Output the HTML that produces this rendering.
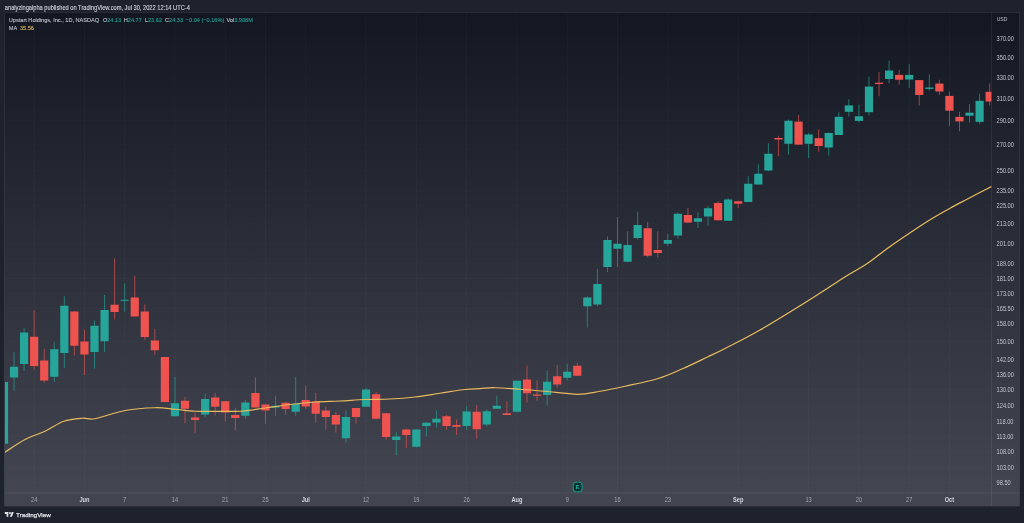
<!DOCTYPE html>
<html><head><meta charset="utf-8"><title>UPST chart</title>
<style>
html,body{margin:0;padding:0;background:#1e222d;overflow:hidden}
body{width:1024px;height:523px;font-family:"Liberation Sans",sans-serif}
svg{display:block;font-family:"Liberation Sans",sans-serif}
</style></head><body>
<svg width="1024" height="523" viewBox="0 0 1024 523">
<defs>
<linearGradient id="g" x1="0" y1="0" x2="0" y2="1"><stop offset="0" stop-color="#131722"/><stop offset="1" stop-color="#434651"/></linearGradient>
<clipPath id="pane"><rect x="5" y="13" width="986.4" height="480"/></clipPath>
</defs>
<rect width="1024" height="523" fill="#1e222d"/>
<rect x="4.5" y="12.5" width="1015" height="481" fill="url(#g)"/>
<rect x="4.5" y="493" width="1015" height="13.4" fill="#42454f"/>

<g stroke="#ffffff" stroke-opacity="0.028" stroke-width="1">
<line x1="34.15" y1="13" x2="34.15" y2="493"/>
<line x1="84.44" y1="13" x2="84.44" y2="493"/>
<line x1="124.67" y1="13" x2="124.67" y2="493"/>
<line x1="174.96" y1="13" x2="174.96" y2="493"/>
<line x1="225.25" y1="13" x2="225.25" y2="493"/>
<line x1="265.48" y1="13" x2="265.48" y2="493"/>
<line x1="305.72" y1="13" x2="305.72" y2="493"/>
<line x1="366.06" y1="13" x2="366.06" y2="493"/>
<line x1="416.35" y1="13" x2="416.35" y2="493"/>
<line x1="466.64" y1="13" x2="466.64" y2="493"/>
<line x1="516.93" y1="13" x2="516.93" y2="493"/>
<line x1="567.22" y1="13" x2="567.22" y2="493"/>
<line x1="617.51" y1="13" x2="617.51" y2="493"/>
<line x1="667.80" y1="13" x2="667.80" y2="493"/>
<line x1="738.21" y1="13" x2="738.21" y2="493"/>
<line x1="808.62" y1="13" x2="808.62" y2="493"/>
<line x1="858.91" y1="13" x2="858.91" y2="493"/>
<line x1="909.20" y1="13" x2="909.20" y2="493"/>
<line x1="949.43" y1="13" x2="949.43" y2="493"/>
</g>
<g stroke="#ffffff" stroke-opacity="0.014" stroke-width="1">
<line x1="5" y1="38.90" x2="991" y2="38.90"/>
<line x1="5" y1="57.52" x2="991" y2="57.52"/>
<line x1="5" y1="77.24" x2="991" y2="77.24"/>
<line x1="5" y1="98.19" x2="991" y2="98.19"/>
<line x1="5" y1="120.54" x2="991" y2="120.54"/>
<line x1="5" y1="144.48" x2="991" y2="144.48"/>
<line x1="5" y1="170.27" x2="991" y2="170.27"/>
<line x1="5" y1="191.01" x2="991" y2="191.01"/>
<line x1="5" y1="205.58" x2="991" y2="205.58"/>
<line x1="5" y1="223.95" x2="991" y2="223.95"/>
<line x1="5" y1="243.38" x2="991" y2="243.38"/>
<line x1="5" y1="264.01" x2="991" y2="264.01"/>
<line x1="5" y1="278.50" x2="991" y2="278.50"/>
<line x1="5" y1="293.65" x2="991" y2="293.65"/>
<line x1="5" y1="308.50" x2="991" y2="308.50"/>
<line x1="5" y1="324.04" x2="991" y2="324.04"/>
<line x1="5" y1="341.45" x2="991" y2="341.45"/>
<line x1="5" y1="359.82" x2="991" y2="359.82"/>
<line x1="5" y1="374.28" x2="991" y2="374.28"/>
<line x1="5" y1="389.40" x2="991" y2="389.40"/>
<line x1="5" y1="405.24" x2="991" y2="405.24"/>
<line x1="5" y1="421.86" x2="991" y2="421.86"/>
<line x1="5" y1="436.37" x2="991" y2="436.37"/>
<line x1="5" y1="451.53" x2="991" y2="451.53"/>
<line x1="5" y1="467.42" x2="991" y2="467.42"/>
<line x1="5" y1="482.39" x2="991" y2="482.39"/>
</g>
<g stroke="#ffffff" stroke-opacity="0.07" stroke-width="1" fill="none">
<line x1="4.5" y1="12.5" x2="1019.5" y2="12.5"/>
<line x1="4.5" y1="493" x2="1019.5" y2="493"/>
<line x1="991.4" y1="12.5" x2="991.4" y2="506.4"/>
<line x1="1019.5" y1="12.5" x2="1019.5" y2="506"/>
<line x1="4.5" y1="12.5" x2="4.5" y2="506"/>
</g>
<g clip-path="url(#pane)">
<rect x="3.48" y="382.00" width="1" height="61.75" fill="#26a69a" opacity="0.64"/>
<rect x="-0.12" y="382.00" width="8.2" height="61.75" fill="#26a69a"/>
<rect x="13.53" y="352.00" width="1" height="39.00" fill="#26a69a" opacity="0.64"/>
<rect x="9.93" y="366.75" width="8.2" height="10.75" fill="#26a69a"/>
<rect x="23.59" y="328.00" width="1" height="43.00" fill="#26a69a" opacity="0.64"/>
<rect x="19.99" y="332.50" width="8.2" height="31.50" fill="#26a69a"/>
<rect x="33.65" y="310.00" width="1" height="59.50" fill="#ef5350" opacity="0.64"/>
<rect x="30.05" y="336.75" width="8.2" height="29.25" fill="#ef5350"/>
<rect x="43.71" y="348.75" width="1" height="33.75" fill="#ef5350" opacity="0.64"/>
<rect x="40.11" y="360.50" width="8.2" height="20.00" fill="#ef5350"/>
<rect x="53.77" y="342.50" width="1" height="39.50" fill="#26a69a" opacity="0.64"/>
<rect x="50.17" y="349.25" width="8.2" height="27.50" fill="#26a69a"/>
<rect x="63.82" y="296.25" width="1" height="71.75" fill="#26a69a" opacity="0.64"/>
<rect x="60.22" y="305.75" width="8.2" height="47.25" fill="#26a69a"/>
<rect x="73.88" y="311.25" width="1" height="44.25" fill="#ef5350" opacity="0.64"/>
<rect x="70.28" y="311.50" width="8.2" height="34.25" fill="#ef5350"/>
<rect x="83.94" y="329.50" width="1" height="45.50" fill="#ef5350" opacity="0.64"/>
<rect x="80.34" y="341.50" width="8.2" height="13.00" fill="#ef5350"/>
<rect x="94.00" y="320.50" width="1" height="48.25" fill="#26a69a" opacity="0.64"/>
<rect x="90.40" y="325.75" width="8.2" height="26.25" fill="#26a69a"/>
<rect x="104.06" y="295.00" width="1" height="57.00" fill="#26a69a" opacity="0.64"/>
<rect x="100.46" y="310.00" width="8.2" height="31.25" fill="#26a69a"/>
<rect x="114.11" y="258.25" width="1" height="61.25" fill="#ef5350" opacity="0.64"/>
<rect x="110.51" y="304.75" width="8.2" height="7.25" fill="#ef5350"/>
<rect x="124.17" y="283.25" width="1" height="28.50" fill="#26a69a" opacity="0.64"/>
<rect x="120.57" y="299.80" width="8.2" height="1.00" fill="#26a69a"/>
<rect x="134.23" y="275.75" width="1" height="40.75" fill="#ef5350" opacity="0.64"/>
<rect x="130.63" y="297.50" width="8.2" height="19.00" fill="#ef5350"/>
<rect x="144.29" y="304.50" width="1" height="35.50" fill="#ef5350" opacity="0.64"/>
<rect x="140.69" y="311.50" width="8.2" height="25.50" fill="#ef5350"/>
<rect x="154.35" y="328.75" width="1" height="26.25" fill="#ef5350" opacity="0.64"/>
<rect x="150.75" y="340.50" width="8.2" height="9.75" fill="#ef5350"/>
<rect x="164.40" y="356.75" width="1" height="45.25" fill="#ef5350" opacity="0.64"/>
<rect x="160.80" y="357.00" width="8.2" height="45.00" fill="#ef5350"/>
<rect x="174.46" y="377.00" width="1" height="39.50" fill="#26a69a" opacity="0.64"/>
<rect x="170.86" y="403.25" width="8.2" height="13.00" fill="#26a69a"/>
<rect x="184.52" y="397.00" width="1" height="26.25" fill="#ef5350" opacity="0.64"/>
<rect x="180.92" y="400.75" width="8.2" height="8.00" fill="#ef5350"/>
<rect x="194.58" y="412.50" width="1" height="20.50" fill="#ef5350" opacity="0.64"/>
<rect x="190.98" y="417.50" width="8.2" height="2.50" fill="#ef5350"/>
<rect x="204.64" y="393.75" width="1" height="23.75" fill="#26a69a" opacity="0.64"/>
<rect x="201.04" y="399.00" width="8.2" height="15.50" fill="#26a69a"/>
<rect x="214.69" y="393.00" width="1" height="22.50" fill="#ef5350" opacity="0.64"/>
<rect x="211.09" y="397.50" width="8.2" height="9.25" fill="#ef5350"/>
<rect x="224.75" y="400.75" width="1" height="20.50" fill="#ef5350" opacity="0.64"/>
<rect x="221.15" y="401.25" width="8.2" height="11.25" fill="#ef5350"/>
<rect x="234.81" y="408.00" width="1" height="22.50" fill="#ef5350" opacity="0.64"/>
<rect x="231.21" y="415.00" width="8.2" height="3.00" fill="#ef5350"/>
<rect x="244.87" y="400.00" width="1" height="18.75" fill="#26a69a" opacity="0.64"/>
<rect x="241.27" y="402.50" width="8.2" height="13.25" fill="#26a69a"/>
<rect x="254.93" y="377.50" width="1" height="30.00" fill="#ef5350" opacity="0.64"/>
<rect x="251.33" y="393.00" width="8.2" height="14.50" fill="#ef5350"/>
<rect x="264.98" y="403.75" width="1" height="20.00" fill="#ef5350" opacity="0.64"/>
<rect x="261.38" y="404.50" width="8.2" height="6.00" fill="#ef5350"/>
<rect x="275.04" y="395.75" width="1" height="20.00" fill="#26a69a" opacity="0.64"/>
<rect x="271.44" y="405.75" width="8.2" height="1.75" fill="#26a69a"/>
<rect x="285.10" y="402.00" width="1" height="13.00" fill="#ef5350" opacity="0.64"/>
<rect x="281.50" y="402.75" width="8.2" height="6.25" fill="#ef5350"/>
<rect x="295.16" y="377.00" width="1" height="38.75" fill="#26a69a" opacity="0.64"/>
<rect x="291.56" y="403.75" width="8.2" height="8.00" fill="#26a69a"/>
<rect x="305.22" y="385.50" width="1" height="23.25" fill="#ef5350" opacity="0.64"/>
<rect x="301.62" y="400.00" width="8.2" height="6.50" fill="#ef5350"/>
<rect x="315.27" y="393.00" width="1" height="29.50" fill="#ef5350" opacity="0.64"/>
<rect x="311.67" y="401.50" width="8.2" height="12.25" fill="#ef5350"/>
<rect x="325.33" y="406.25" width="1" height="23.25" fill="#ef5350" opacity="0.64"/>
<rect x="321.73" y="410.50" width="8.2" height="6.50" fill="#ef5350"/>
<rect x="335.39" y="412.00" width="1" height="20.50" fill="#ef5350" opacity="0.64"/>
<rect x="331.79" y="415.00" width="8.2" height="9.50" fill="#ef5350"/>
<rect x="345.45" y="410.50" width="1" height="32.00" fill="#26a69a" opacity="0.64"/>
<rect x="341.85" y="417.00" width="8.2" height="21.25" fill="#26a69a"/>
<rect x="355.51" y="408.00" width="1" height="15.75" fill="#ef5350" opacity="0.64"/>
<rect x="351.91" y="408.00" width="8.2" height="9.00" fill="#ef5350"/>
<rect x="365.56" y="388.00" width="1" height="18.75" fill="#26a69a" opacity="0.64"/>
<rect x="361.96" y="389.50" width="8.2" height="17.25" fill="#26a69a"/>
<rect x="375.62" y="392.00" width="1" height="27.50" fill="#ef5350" opacity="0.64"/>
<rect x="372.02" y="394.25" width="8.2" height="24.50" fill="#ef5350"/>
<rect x="385.68" y="413.00" width="1" height="26.50" fill="#ef5350" opacity="0.64"/>
<rect x="382.08" y="413.25" width="8.2" height="23.75" fill="#ef5350"/>
<rect x="395.74" y="432.00" width="1" height="23.00" fill="#26a69a" opacity="0.64"/>
<rect x="392.14" y="436.50" width="8.2" height="3.50" fill="#26a69a"/>
<rect x="405.80" y="428.75" width="1" height="19.25" fill="#ef5350" opacity="0.64"/>
<rect x="402.20" y="429.50" width="8.2" height="5.50" fill="#ef5350"/>
<rect x="415.85" y="429.50" width="1" height="18.00" fill="#26a69a" opacity="0.64"/>
<rect x="412.25" y="429.50" width="8.2" height="17.25" fill="#26a69a"/>
<rect x="425.91" y="422.00" width="1" height="14.25" fill="#26a69a" opacity="0.64"/>
<rect x="422.31" y="422.75" width="8.2" height="3.25" fill="#26a69a"/>
<rect x="435.97" y="410.50" width="1" height="17.00" fill="#26a69a" opacity="0.64"/>
<rect x="432.37" y="418.75" width="8.2" height="3.75" fill="#26a69a"/>
<rect x="446.03" y="415.00" width="1" height="14.50" fill="#ef5350" opacity="0.64"/>
<rect x="442.43" y="416.25" width="8.2" height="9.75" fill="#ef5350"/>
<rect x="456.09" y="419.50" width="1" height="15.50" fill="#ef5350" opacity="0.64"/>
<rect x="452.49" y="425.00" width="8.2" height="1.75" fill="#ef5350"/>
<rect x="466.14" y="406.25" width="1" height="23.75" fill="#26a69a" opacity="0.64"/>
<rect x="462.54" y="411.50" width="8.2" height="14.50" fill="#26a69a"/>
<rect x="476.20" y="405.00" width="1" height="33.75" fill="#ef5350" opacity="0.64"/>
<rect x="472.60" y="411.75" width="8.2" height="17.50" fill="#ef5350"/>
<rect x="486.26" y="409.50" width="1" height="16.75" fill="#26a69a" opacity="0.64"/>
<rect x="482.66" y="411.25" width="8.2" height="13.25" fill="#26a69a"/>
<rect x="496.32" y="395.75" width="1" height="13.25" fill="#26a69a" opacity="0.64"/>
<rect x="492.72" y="405.75" width="8.2" height="3.00" fill="#26a69a"/>
<rect x="506.38" y="401.25" width="1" height="13.75" fill="#ef5350" opacity="0.64"/>
<rect x="502.78" y="413.25" width="8.2" height="1.75" fill="#ef5350"/>
<rect x="516.43" y="380.50" width="1" height="32.00" fill="#26a69a" opacity="0.64"/>
<rect x="512.83" y="380.75" width="8.2" height="31.00" fill="#26a69a"/>
<rect x="526.49" y="365.75" width="1" height="36.75" fill="#ef5350" opacity="0.64"/>
<rect x="522.89" y="379.50" width="8.2" height="13.75" fill="#ef5350"/>
<rect x="536.55" y="380.50" width="1" height="20.25" fill="#ef5350" opacity="0.64"/>
<rect x="532.95" y="394.50" width="8.2" height="1.25" fill="#ef5350"/>
<rect x="546.61" y="370.50" width="1" height="35.00" fill="#26a69a" opacity="0.64"/>
<rect x="543.01" y="381.75" width="8.2" height="13.25" fill="#26a69a"/>
<rect x="556.67" y="365.00" width="1" height="23.00" fill="#ef5350" opacity="0.64"/>
<rect x="553.07" y="376.25" width="8.2" height="8.25" fill="#ef5350"/>
<rect x="566.72" y="363.75" width="1" height="16.75" fill="#26a69a" opacity="0.64"/>
<rect x="563.12" y="371.75" width="8.2" height="6.00" fill="#26a69a"/>
<rect x="576.78" y="363.00" width="1" height="12.75" fill="#ef5350" opacity="0.64"/>
<rect x="573.18" y="365.75" width="8.2" height="10.00" fill="#ef5350"/>
<rect x="586.84" y="296.25" width="1" height="31.25" fill="#26a69a" opacity="0.64"/>
<rect x="583.24" y="297.50" width="8.2" height="8.75" fill="#26a69a"/>
<rect x="596.90" y="268.75" width="1" height="37.50" fill="#26a69a" opacity="0.64"/>
<rect x="593.30" y="284.00" width="8.2" height="20.50" fill="#26a69a"/>
<rect x="606.96" y="236.25" width="1" height="35.75" fill="#26a69a" opacity="0.64"/>
<rect x="603.36" y="240.00" width="8.2" height="27.00" fill="#26a69a"/>
<rect x="617.01" y="217.00" width="1" height="50.00" fill="#26a69a" opacity="0.64"/>
<rect x="613.41" y="243.75" width="8.2" height="5.00" fill="#26a69a"/>
<rect x="627.07" y="231.25" width="1" height="30.50" fill="#26a69a" opacity="0.64"/>
<rect x="623.47" y="245.00" width="8.2" height="16.75" fill="#26a69a"/>
<rect x="637.13" y="211.75" width="1" height="27.75" fill="#26a69a" opacity="0.64"/>
<rect x="633.53" y="225.00" width="8.2" height="13.00" fill="#26a69a"/>
<rect x="647.19" y="222.00" width="1" height="35.50" fill="#ef5350" opacity="0.64"/>
<rect x="643.59" y="228.25" width="8.2" height="27.50" fill="#ef5350"/>
<rect x="657.25" y="231.25" width="1" height="26.25" fill="#ef5350" opacity="0.64"/>
<rect x="653.65" y="250.00" width="8.2" height="3.00" fill="#ef5350"/>
<rect x="667.30" y="233.75" width="1" height="12.50" fill="#26a69a" opacity="0.64"/>
<rect x="663.70" y="240.00" width="8.2" height="3.75" fill="#26a69a"/>
<rect x="677.36" y="212.50" width="1" height="26.25" fill="#26a69a" opacity="0.64"/>
<rect x="673.76" y="213.75" width="8.2" height="21.75" fill="#26a69a"/>
<rect x="687.42" y="208.00" width="1" height="15.00" fill="#ef5350" opacity="0.64"/>
<rect x="683.82" y="215.00" width="8.2" height="7.50" fill="#ef5350"/>
<rect x="697.48" y="212.50" width="1" height="15.50" fill="#26a69a" opacity="0.64"/>
<rect x="693.88" y="218.25" width="8.2" height="3.50" fill="#26a69a"/>
<rect x="707.54" y="206.25" width="1" height="19.50" fill="#26a69a" opacity="0.64"/>
<rect x="703.94" y="208.25" width="8.2" height="8.25" fill="#26a69a"/>
<rect x="717.59" y="201.25" width="1" height="19.50" fill="#ef5350" opacity="0.64"/>
<rect x="713.99" y="203.00" width="8.2" height="17.25" fill="#ef5350"/>
<rect x="727.65" y="198.00" width="1" height="23.00" fill="#26a69a" opacity="0.64"/>
<rect x="724.05" y="199.50" width="8.2" height="21.25" fill="#26a69a"/>
<rect x="737.71" y="200.75" width="1" height="7.50" fill="#ef5350" opacity="0.64"/>
<rect x="734.11" y="201.25" width="8.2" height="2.50" fill="#ef5350"/>
<rect x="747.77" y="176.25" width="1" height="25.75" fill="#26a69a" opacity="0.64"/>
<rect x="744.17" y="183.75" width="8.2" height="18.25" fill="#26a69a"/>
<rect x="757.83" y="164.25" width="1" height="20.75" fill="#26a69a" opacity="0.64"/>
<rect x="754.23" y="173.75" width="8.2" height="10.75" fill="#26a69a"/>
<rect x="767.88" y="143.25" width="1" height="28.00" fill="#26a69a" opacity="0.64"/>
<rect x="764.28" y="153.75" width="8.2" height="16.75" fill="#26a69a"/>
<rect x="777.94" y="135.75" width="1" height="20.50" fill="#ef5350" opacity="0.64"/>
<rect x="774.34" y="138.00" width="8.2" height="1.50" fill="#ef5350"/>
<rect x="788.00" y="119.50" width="1" height="35.00" fill="#26a69a" opacity="0.64"/>
<rect x="784.40" y="120.75" width="8.2" height="23.00" fill="#26a69a"/>
<rect x="798.06" y="115.00" width="1" height="30.00" fill="#ef5350" opacity="0.64"/>
<rect x="794.46" y="121.60" width="8.2" height="23.00" fill="#ef5350"/>
<rect x="808.12" y="133.00" width="1" height="25.00" fill="#26a69a" opacity="0.64"/>
<rect x="804.52" y="134.50" width="8.2" height="9.30" fill="#26a69a"/>
<rect x="818.17" y="129.30" width="1" height="22.30" fill="#ef5350" opacity="0.64"/>
<rect x="814.57" y="138.20" width="8.2" height="7.80" fill="#ef5350"/>
<rect x="828.23" y="132.20" width="1" height="23.50" fill="#26a69a" opacity="0.64"/>
<rect x="824.63" y="133.00" width="8.2" height="14.50" fill="#26a69a"/>
<rect x="838.29" y="112.40" width="1" height="22.60" fill="#26a69a" opacity="0.64"/>
<rect x="834.69" y="116.80" width="8.2" height="18.20" fill="#26a69a"/>
<rect x="848.35" y="99.20" width="1" height="17.40" fill="#26a69a" opacity="0.64"/>
<rect x="844.75" y="105.40" width="8.2" height="6.40" fill="#26a69a"/>
<rect x="858.41" y="104.60" width="1" height="17.70" fill="#26a69a" opacity="0.64"/>
<rect x="854.81" y="116.30" width="8.2" height="4.60" fill="#26a69a"/>
<rect x="868.46" y="76.70" width="1" height="38.70" fill="#26a69a" opacity="0.64"/>
<rect x="864.86" y="86.60" width="8.2" height="25.60" fill="#26a69a"/>
<rect x="878.52" y="72.10" width="1" height="24.10" fill="#ef5350" opacity="0.64"/>
<rect x="874.92" y="82.70" width="8.2" height="1.30" fill="#ef5350"/>
<rect x="888.58" y="60.60" width="1" height="22.50" fill="#26a69a" opacity="0.64"/>
<rect x="884.98" y="70.50" width="8.2" height="8.50" fill="#26a69a"/>
<rect x="898.64" y="69.80" width="1" height="14.90" fill="#ef5350" opacity="0.64"/>
<rect x="895.04" y="74.90" width="8.2" height="4.80" fill="#ef5350"/>
<rect x="908.70" y="64.10" width="1" height="24.10" fill="#26a69a" opacity="0.64"/>
<rect x="905.10" y="74.90" width="8.2" height="4.60" fill="#26a69a"/>
<rect x="918.75" y="80.10" width="1" height="25.30" fill="#ef5350" opacity="0.64"/>
<rect x="915.15" y="80.10" width="8.2" height="14.90" fill="#ef5350"/>
<rect x="928.81" y="74.40" width="1" height="16.10" fill="#26a69a" opacity="0.64"/>
<rect x="925.21" y="87.50" width="8.2" height="1.40" fill="#26a69a"/>
<rect x="938.87" y="79.70" width="1" height="15.40" fill="#ef5350" opacity="0.64"/>
<rect x="935.27" y="83.60" width="8.2" height="7.90" fill="#ef5350"/>
<rect x="948.93" y="91.50" width="1" height="34.60" fill="#ef5350" opacity="0.64"/>
<rect x="945.33" y="95.90" width="8.2" height="14.80" fill="#ef5350"/>
<rect x="958.99" y="111.80" width="1" height="19.50" fill="#ef5350" opacity="0.64"/>
<rect x="955.39" y="116.90" width="8.2" height="4.50" fill="#ef5350"/>
<rect x="969.04" y="104.20" width="1" height="18.40" fill="#26a69a" opacity="0.64"/>
<rect x="965.44" y="112.70" width="8.2" height="3.00" fill="#26a69a"/>
<rect x="979.10" y="93.90" width="1" height="29.80" fill="#26a69a" opacity="0.64"/>
<rect x="975.50" y="100.80" width="8.2" height="21.10" fill="#26a69a"/>
<rect x="989.16" y="83.60" width="1" height="21.80" fill="#ef5350" opacity="0.64"/>
<rect x="985.56" y="91.80" width="8.2" height="9.70" fill="#ef5350"/>
<path d="M4.50 452.50C7.92 450.33 18.25 443.04 25.00 439.50C31.75 435.96 38.54 434.29 45.00 431.25C51.46 428.21 57.50 423.42 63.75 421.25C70.00 419.08 77.29 418.67 82.50 418.25C87.71 417.83 87.92 420.04 95.00 418.75C102.08 417.46 115.00 412.33 125.00 410.50C135.00 408.67 146.67 407.96 155.00 407.75C163.33 407.54 168.33 408.67 175.00 409.25C181.67 409.83 188.33 410.92 195.00 411.25C201.67 411.58 207.50 411.25 215.00 411.25C222.50 411.25 231.67 411.79 240.00 411.25C248.33 410.71 256.67 409.12 265.00 408.00C273.33 406.88 281.67 405.50 290.00 404.50C298.33 403.50 306.67 402.58 315.00 402.00C323.33 401.42 331.67 401.42 340.00 401.00C348.33 400.58 356.67 399.83 365.00 399.50C373.33 399.17 381.67 399.42 390.00 399.00C398.33 398.58 406.67 397.96 415.00 397.00C423.33 396.04 431.67 394.50 440.00 393.25C448.33 392.00 458.33 390.27 465.00 389.50C471.67 388.73 475.00 388.89 480.00 388.60C485.00 388.31 488.33 387.64 495.00 387.75C501.67 387.86 511.67 388.67 520.00 389.25C528.33 389.83 535.42 390.42 545.00 391.25C554.58 392.08 568.33 394.25 577.50 394.25C586.67 394.25 592.08 392.58 600.00 391.25C607.92 389.92 615.42 388.33 625.00 386.25C634.58 384.17 647.92 381.67 657.50 378.75C667.08 375.83 674.17 372.38 682.50 368.75C690.83 365.12 700.25 360.46 707.50 357.00C714.75 353.54 717.25 352.50 726.00 348.00C734.75 343.50 746.12 338.00 760.00 330.00C773.88 322.00 797.50 307.29 809.25 300.00C821.00 292.71 824.04 290.42 830.50 286.25C836.96 282.08 841.75 278.88 848.00 275.00C854.25 271.12 861.33 267.50 868.00 263.00C874.67 258.50 880.92 253.08 888.00 248.00C895.08 242.92 903.42 237.25 910.50 232.50C917.58 227.75 923.83 223.58 930.50 219.50C937.17 215.42 944.25 211.46 950.50 208.00C956.75 204.54 961.08 202.38 968.00 198.75C974.92 195.12 988.00 188.29 992.00 186.20" fill="none" stroke="#e8ba5e" stroke-width="1.25" stroke-linejoin="round" stroke-linecap="round"/>
</g>
<g><rect x="573.2" y="482.2" width="8.9" height="9.5" rx="3" fill="#0b3335" stroke="#17927f" stroke-width="1.1"/><text x="577.6" y="489.3" font-size="5.4" font-weight="bold" fill="#1fb59f" text-anchor="middle">E</text></g>
<g fill="#c3c6ce">
<text transform="translate(996.70 21.40) scale(0.82 1)" font-size="6.2" >USD</text>
<text transform="translate(996.60 41.35) scale(0.9 1)" font-size="6.3" >370.00</text>
<text transform="translate(996.60 59.97) scale(0.9 1)" font-size="6.3" >350.00</text>
<text transform="translate(996.60 79.69) scale(0.9 1)" font-size="6.3" >330.00</text>
<text transform="translate(996.60 100.64) scale(0.9 1)" font-size="6.3" >310.00</text>
<text transform="translate(996.60 122.99) scale(0.9 1)" font-size="6.3" >290.00</text>
<text transform="translate(996.60 146.93) scale(0.9 1)" font-size="6.3" >270.00</text>
<text transform="translate(996.60 172.72) scale(0.9 1)" font-size="6.3" >250.00</text>
<text transform="translate(996.60 193.46) scale(0.9 1)" font-size="6.3" >235.00</text>
<text transform="translate(996.60 208.03) scale(0.9 1)" font-size="6.3" >225.00</text>
<text transform="translate(996.60 226.40) scale(0.9 1)" font-size="6.3" >213.00</text>
<text transform="translate(996.60 245.83) scale(0.9 1)" font-size="6.3" >201.00</text>
<text transform="translate(996.60 266.46) scale(0.9 1)" font-size="6.3" >189.00</text>
<text transform="translate(996.60 280.95) scale(0.9 1)" font-size="6.3" >181.00</text>
<text transform="translate(996.60 296.10) scale(0.9 1)" font-size="6.3" >173.00</text>
<text transform="translate(996.60 310.95) scale(0.9 1)" font-size="6.3" >165.50</text>
<text transform="translate(996.60 326.49) scale(0.9 1)" font-size="6.3" >158.00</text>
<text transform="translate(996.60 343.90) scale(0.9 1)" font-size="6.3" >150.00</text>
<text transform="translate(996.60 362.27) scale(0.9 1)" font-size="6.3" >142.00</text>
<text transform="translate(996.60 376.73) scale(0.9 1)" font-size="6.3" >136.00</text>
<text transform="translate(996.60 391.85) scale(0.9 1)" font-size="6.3" >130.00</text>
<text transform="translate(996.60 407.69) scale(0.9 1)" font-size="6.3" >124.00</text>
<text transform="translate(996.60 424.31) scale(0.9 1)" font-size="6.3" >118.00</text>
<text transform="translate(996.60 438.82) scale(0.9 1)" font-size="6.3" >113.00</text>
<text transform="translate(996.60 453.98) scale(0.9 1)" font-size="6.3" >108.00</text>
<text transform="translate(996.60 469.87) scale(0.9 1)" font-size="6.3" >103.00</text>
<text transform="translate(996.60 484.84) scale(0.9 1)" font-size="6.3" >98.50</text>
</g>
<g text-anchor="middle">
<text transform="translate(34.15 501.90) scale(0.9 1)" font-size="6.3" fill="#a4a7b1">24</text>
<text transform="translate(84.44 501.90) scale(0.9 1)" font-size="6.3" font-weight="bold" fill="#d6d8df">Jun</text>
<text transform="translate(124.67 501.90) scale(0.9 1)" font-size="6.3" fill="#a4a7b1">7</text>
<text transform="translate(174.96 501.90) scale(0.9 1)" font-size="6.3" fill="#a4a7b1">14</text>
<text transform="translate(225.25 501.90) scale(0.9 1)" font-size="6.3" fill="#a4a7b1">21</text>
<text transform="translate(265.48 501.90) scale(0.9 1)" font-size="6.3" fill="#a4a7b1">25</text>
<text transform="translate(305.72 501.90) scale(0.9 1)" font-size="6.3" font-weight="bold" fill="#d6d8df">Jul</text>
<text transform="translate(366.06 501.90) scale(0.9 1)" font-size="6.3" fill="#a4a7b1">12</text>
<text transform="translate(416.35 501.90) scale(0.9 1)" font-size="6.3" fill="#a4a7b1">19</text>
<text transform="translate(466.64 501.90) scale(0.9 1)" font-size="6.3" fill="#a4a7b1">26</text>
<text transform="translate(516.93 501.90) scale(0.9 1)" font-size="6.3" font-weight="bold" fill="#d6d8df">Aug</text>
<text transform="translate(567.22 501.90) scale(0.9 1)" font-size="6.3" fill="#a4a7b1">9</text>
<text transform="translate(617.51 501.90) scale(0.9 1)" font-size="6.3" fill="#a4a7b1">16</text>
<text transform="translate(667.80 501.90) scale(0.9 1)" font-size="6.3" fill="#a4a7b1">23</text>
<text transform="translate(738.21 501.90) scale(0.9 1)" font-size="6.3" font-weight="bold" fill="#d6d8df">Sep</text>
<text transform="translate(808.62 501.90) scale(0.9 1)" font-size="6.3" fill="#a4a7b1">13</text>
<text transform="translate(858.91 501.90) scale(0.9 1)" font-size="6.3" fill="#a4a7b1">20</text>
<text transform="translate(909.20 501.90) scale(0.9 1)" font-size="6.3" fill="#a4a7b1">27</text>
<text transform="translate(949.43 501.90) scale(0.9 1)" font-size="6.3" font-weight="bold" fill="#d6d8df">Oct</text>
</g>
<text id="hdr" x="4.8" y="9.7" font-size="6.6" textLength="185" lengthAdjust="spacingAndGlyphs" fill="#d1d4dc" stroke="#d1d4dc" stroke-width="0.12">analyzingalpha published on TradingView.com, Jul 30, 2022 12:14 UTC-4</text>
<g fill="#c3c6ce" stroke="#c3c6ce" stroke-width="0.1">
<text transform="translate(8.80 21.90) scale(0.903 1)" font-size="6.2" id="lg1">Upstart Holdings, Inc., 1D, NASDAQ</text>
<text transform="translate(102.90 21.90) scale(0.903 1)" font-size="6.2" >O<tspan fill="#25a196" stroke="#25a196">24.13</tspan></text>
<text transform="translate(123.80 21.90) scale(0.903 1)" font-size="6.2" >H<tspan fill="#25a196" stroke="#25a196">24.77</tspan></text>
<text transform="translate(144.90 21.90) scale(0.903 1)" font-size="6.2" >L<tspan fill="#25a196" stroke="#25a196">23.62</tspan></text>
<text transform="translate(165.00 21.90) scale(0.903 1)" font-size="6.2" >C<tspan fill="#25a196" stroke="#25a196">24.33</tspan></text>
<text transform="translate(185.80 21.90) scale(0.903 1)" font-size="6.2" ><tspan fill="#25a196" stroke="#25a196">−0.04 (−0.16%)</tspan></text>
<text transform="translate(226.40 21.90) scale(0.903 1)" font-size="6.2" >Vol<tspan fill="#25a196" stroke="#25a196">3.908M</tspan></text>
<text transform="translate(8.80 30.40) scale(0.903 1)" font-size="6.2" >MA</text>
<text transform="translate(20.00 30.40) scale(0.903 1)" font-size="6.2" ><tspan fill="#e0b25c" stroke="#e0b25c">35.56</tspan></text>
</g>
<g transform="translate(4.8,511.1) scale(0.253)" fill="#e4e6ec"><path d="M14 22H7V11H0V4h14v18z"/><circle cx="20" cy="8" r="4"/><path d="M28 22h-8l7.5-18h8L28 22z"/></g>
<text id="tv" x="16" y="517.3" font-size="6.1" textLength="34.8" lengthAdjust="spacingAndGlyphs" fill="#dfe1e8" stroke="#dfe1e8" stroke-width="0.25">TradingView</text>
</svg></body></html>
